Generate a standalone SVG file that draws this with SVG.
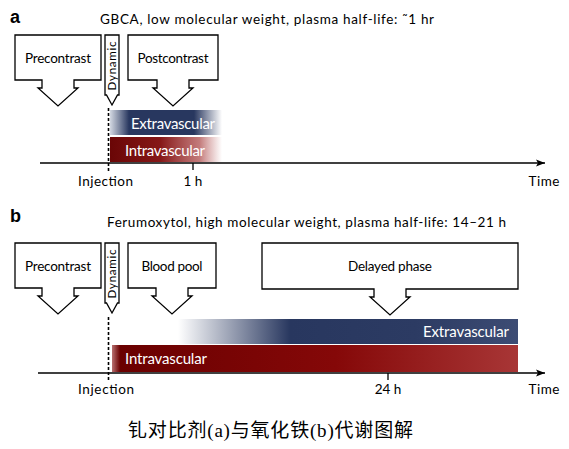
<svg xmlns="http://www.w3.org/2000/svg" width="569" height="449" viewBox="0 0 569 449">
<style>
.box{fill:#fff;stroke:#000;stroke-width:1.3;stroke-linejoin:miter}
.t{font-family:Lato,"Open Sans",sans-serif;font-size:13.5px;fill:#000}
.w{font-family:Lato,"Open Sans",sans-serif;font-size:15px;fill:#fff}
.lbl{font-family:"Liberation Sans",Arial,sans-serif;font-size:18px;font-weight:bold;fill:#000}
.axis{stroke:#000;stroke-width:1.3;fill:none}
.dash{stroke:#000;stroke-width:1.6;stroke-dasharray:3,2;fill:none}
.cap{font-family:"Liberation Serif","Noto Sans CJK SC",serif;font-size:19px;fill:#000}
</style>
<defs>
<marker id="arr" markerWidth="10" markerHeight="8" refX="9" refY="4" orient="auto" markerUnits="userSpaceOnUse">
<path d="M0,0.5 L9,4 L0,7.5 L2,4 Z" fill="#000"/>
</marker>
<linearGradient id="exA" x1="0" x2="1" y1="0" y2="0">
<stop offset="0" stop-color="#d3d8e2"/>
<stop offset="0.17" stop-color="#28375f"/>
<stop offset="0.75" stop-color="#28375f"/>
<stop offset="1" stop-color="#28375f" stop-opacity="0"/>
</linearGradient>
<linearGradient id="inA" x1="0" x2="1" y1="0" y2="0">
<stop offset="0" stop-color="#6a0606"/>
<stop offset="0.45" stop-color="#861818"/>
<stop offset="0.8" stop-color="#b45a5a" stop-opacity="0.8"/>
<stop offset="1" stop-color="#c07070" stop-opacity="0"/>
</linearGradient>
<linearGradient id="exB" x1="0" x2="1" y1="0" y2="0">
<stop offset="0" stop-color="#28375f" stop-opacity="0"/>
<stop offset="0.33" stop-color="#28375f"/>
<stop offset="0.7" stop-color="#2c3b63"/>
<stop offset="1" stop-color="#3d4c74"/>
</linearGradient>
<linearGradient id="inB" x1="0" x2="1" y1="0" y2="0">
<stop offset="0" stop-color="#b87070"/>
<stop offset="0.02" stop-color="#6a0000"/>
<stop offset="0.55" stop-color="#850808"/>
<stop offset="1" stop-color="#a83636"/>
</linearGradient>
</defs>

<g id="panel-a-label"><text class="lbl" x="10" y="23">a</text></g>
<g id="panel-a-title"><text class="t" x="100" y="24" textLength="334">GBCA, low molecular weight, plasma half-life:  ˜1 hr</text></g>

<g id="a-bands">
<rect x="110" y="110" width="112" height="25" fill="url(#exA)"/>
<rect x="110" y="137" width="112" height="25" fill="url(#inA)"/>
<text class="w" x="131" y="129" textLength="84">Extravascular</text>
<text class="w" x="125" y="156" textLength="80">Intravascular</text>
</g>

<g id="a-precontrast">
<path class="box" d="M15,35 H101 V80 H74 V88 H78 L58,106 L38,88 H42 V80 H15 Z"/>
<text class="t" x="58" y="63" text-anchor="middle" textLength="66">Precontrast</text>
</g>
<g id="a-dynamic">
<path class="box" d="M105,35 H119 V95 H117.5 L112,105 L106.5,95 H105 Z"/>
<text class="t" style="font-size:11.5px" transform="translate(116.3,66) rotate(-90)" text-anchor="middle" textLength="49">Dynamic</text>
</g>
<g id="a-postcontrast">
<path class="box" d="M128,35 H218 V80 H189 V88 H193 L173,106 L153,88 H157 V80 H128 Z"/>
<text class="t" x="173" y="63" text-anchor="middle" textLength="71">Postcontrast</text>
</g>

<g id="connectors">
<path class="axis" d="M40,163 H545" marker-end="url(#arr)"/>
<path class="axis" d="M193,163 V170"/>
<path class="dash" d="M108.5,108 V171"/>
<path class="axis" d="M38,373 H545" marker-end="url(#arr)"/>
<path class="axis" d="M388,373 V380"/>
<path class="dash" d="M108.5,317 V382"/>
</g>

<g id="a-axis-labels">
<text class="t" x="105.5" y="186" text-anchor="middle" textLength="55">Injection</text>
<text class="t" x="193" y="186" text-anchor="middle">1 h</text>
<text class="t" x="544" y="186" text-anchor="middle" textLength="31">Time</text>
</g>

<g id="panel-b-label"><text class="lbl" x="10" y="222">b</text></g>
<g id="panel-b-title"><text class="t" x="107" y="227" textLength="399">Ferumoxytol, high molecular weight, plasma half-life: 14–21 h</text></g>

<g id="b-bands">
<rect x="178" y="319" width="340" height="25" fill="url(#exB)"/>
<rect x="112" y="345" width="406" height="27" fill="url(#inB)"/>
<text class="w" x="509" y="337" text-anchor="end" textLength="86">Extravascular</text>
<text class="w" x="125" y="364" textLength="82">Intravascular</text>
</g>

<g id="b-precontrast">
<path class="box" d="M15,243 H101 V288 H74 V296 H78 L58,314 L38,296 H42 V288 H15 Z"/>
<text class="t" x="58" y="271" text-anchor="middle" textLength="66">Precontrast</text>
</g>
<g id="b-dynamic">
<path class="box" d="M105,243 H119 V303 H117.5 L112,313 L106.5,303 H105 Z"/>
<text class="t" style="font-size:11.5px" transform="translate(116.3,274) rotate(-90)" text-anchor="middle" textLength="49">Dynamic</text>
</g>
<g id="b-bloodpool">
<path class="box" d="M128,243 H216 V288 H188 V296 H192 L172,314 L152,296 H156 V288 H128 Z"/>
<text class="t" x="172" y="271" text-anchor="middle" textLength="61">Blood pool</text>
</g>
<g id="b-delayed">
<path class="box" d="M262,243 H518 V289 H406 V297 H410 L390,315 L370,297 H374 V289 H262 Z"/>
<text class="t" x="390" y="271" text-anchor="middle" textLength="84">Delayed phase</text>
</g>

<g id="b-axis-labels">
<text class="t" x="106" y="394" text-anchor="middle" textLength="56">Injection</text>
<text class="t" x="388" y="394" text-anchor="middle">24 h</text>
<text class="t" x="544" y="394" text-anchor="middle" textLength="31">Time</text>
</g>

<g id="caption"><text class="cap" x="128" y="437" textLength="285">钆对比剂(a)与氧化铁(b)代谢图解</text></g>
</svg>
